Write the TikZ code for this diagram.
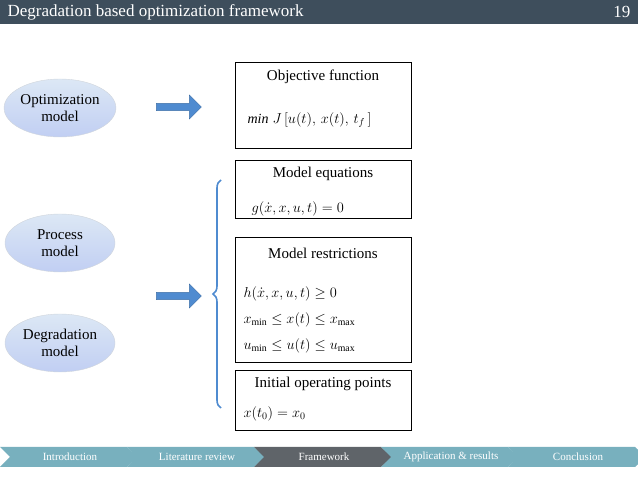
\documentclass[tikz,border=0pt]{standalone}
\usepackage{fontspec}
\setmainfont{Liberation Serif}
\usetikzlibrary{shapes.geometric,shapes.arrows,decorations.pathreplacing}
\definecolor{hdr}{RGB}{62,78,92}
\definecolor{ellf}{RGB}{197,216,238}
\definecolor{arr}{RGB}{79,139,208}
\definecolor{nav}{RGB}{120,176,190}
\definecolor{navd}{RGB}{95,100,105}
\tikzset{
 ell/.style={ellipse,draw=ellf!70!black!40,top color=ellf!60!white,bottom color=ellf!90!blue!80,minimum width=110pt,minimum height=58pt,align=center,font=\fontsize{15}{17}\selectfont,inner sep=0pt},
 box/.style={draw=black,line width=1pt,minimum width=176pt,anchor=north west},
 blk/.style={single arrow,draw=arr!80!black,fill=arr,minimum height=45pt,minimum width=24pt,single arrow head extend=5pt,inner sep=2pt},
 lbl/.style={font=\fontsize{15}{17}\selectfont},
 eq/.style={font=\fontsize{14}{16}\selectfont,anchor=west},
 navi/.style={font=\fontsize{11}{13}\selectfont,text=white}
}
\begin{document}
\begin{tikzpicture}[x=1pt,y=-1pt]
\useasboundingbox (0,0) rectangle (638,478);
\fill[hdr] (0,0) rectangle (638,24);
\node[anchor=west,text=white,font=\fontsize{17}{19}\selectfont] (title) at (4,12) {Degradation based optimization framework};
\node[anchor=east,text=white,font=\fontsize{17}{19}\selectfont] (pg) at (634,12) {19};
% ellipses
\node[ell] (opt) at (60,108) {Optimization\\model};
\node[ell] (proc) at (60,243) {Process\\model};
\node[ell] (deg) at (60,343) {Degradation\\model};
\node[blk] (a1) at (177,107) {};
\node[blk] (a2) at (177,296) {};
% boxes
\node[box,minimum height=86pt] (b1) at (235,62) {};
\node[lbl] (t1) at (323,77) {Objective function};
\node[eq] (e1) at (244,120) {$\mathit{min}\;J\,[u(t),\,x(t),\,t_f\,]$};
\node[box,minimum height=58pt] (b2) at (235,160) {};
\node[lbl] (t2) at (323,174) {Model equations};
\node[eq] (e2) at (248,209) {$g(\dot x,x,u,t)=0$};
\node[box,minimum height=125pt] (b3) at (235,237) {};
\node[lbl] (t3) at (323,253) {Model restrictions};
\node[eq] (e3) at (240,294) {$h(\dot x,x,u,t)\geq 0$};
\node[eq] (e4) at (240,320) {$x_{\min}\leq x(t)\leq x_{\max}$};
\node[eq] (e5) at (240,346) {$u_{\min}\leq u(t)\leq u_{\max}$};
\node[box,minimum height=60pt] (b4) at (235,370) {};
\node[lbl] (t4) at (323,384) {Initial operating points};
\node[eq] (e6) at (240,414) {$x(t_0)=x_0$};
\coordinate (bt) at (221,180);
\coordinate (bb) at (221,408);
\draw[arr,line width=1.6pt,decorate,decoration={brace,amplitude=8pt,mirror}] (bt) -- (bb);
% nav bar
\foreach \i/\xa/\t/\c in {0/0/Introduction/nav,1/127/Literature review/nav,2/254/Framework/navd,3/381/Application \& results/nav,4/508/Conclusion/nav}{
 \fill[\c] (\xa,447) -- (\xa+127,447) -- (\xa+138,457) -- (\xa+127,467) -- (\xa,467) -- (\xa+10,457) -- cycle;
 \node[navi] (n\i) at (\xa+70,457) {\t};
}
\end{tikzpicture}
\end{document}
